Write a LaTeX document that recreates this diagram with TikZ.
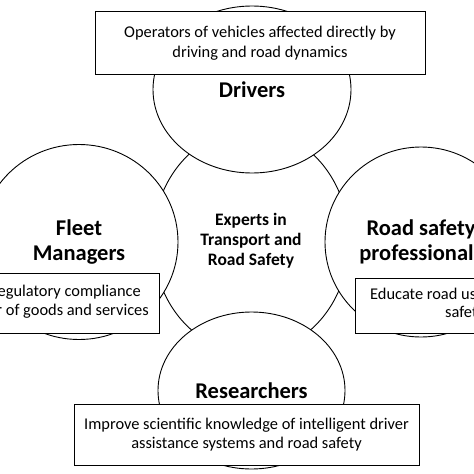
\documentclass[tikz,border=0pt]{standalone}
\usepackage{fontspec}
\setmainfont{Carlito}
\usetikzlibrary{shapes.geometric}
\begin{document}
\begin{tikzpicture}[x=1pt,y=-1pt,
  circ/.style={ellipse,draw,line width=0.9pt,fill=white,inner sep=0pt,align=center,font=\fontsize{22.5}{25}\selectfont\bfseries},
  box/.style={rectangle,draw,line width=0.9pt,fill=white,inner sep=0pt,align=center,font=\fontsize{16.4}{19.5}\selectfont},
  txt/.style={inner sep=0pt,font=\fontsize{16.4}{19.5}\selectfont}]
\useasboundingbox (0,0) rectangle (474,474);
\clip (0,0) rectangle (474,474);
\fill[white] (0,0) rectangle (474,474);
% central ellipse
\node[circ, minimum width=196pt, minimum height=224pt, font=\fontsize{17.5}{20}\selectfont\bfseries] (experts) at (251,241) {Experts in\\Transport and\\Road Safety};
% outer ellipses
\node[circ, minimum width=198pt, minimum height=167pt] (drivers) at (252,89.5) {Drivers};
\node[circ, minimum width=198pt, minimum height=195pt] (fleet) at (79,242) {Fleet\\Managers};
\node[circ, minimum width=192pt, minimum height=190pt] (road) at (421,242) {Road safety\\professionals};
\node[circ, minimum width=187pt, minimum height=157pt] (research) at (251.5,390.5) {Researchers};
% boxes
\node[box, minimum width=330pt, minimum height=63pt] (dbox) at (260,43) {Operators of vehicles affected directly by\\driving and road dynamics};
\node[box, minimum width=220pt, minimum height=60pt] (fbox) at (49,303) {};
\node[txt, anchor=mid east] (f1) at (141,294) {regulatory compliance};
\node[txt, anchor=mid east] (f2) at (149,313) {r of goods and services};
\node[box, minimum width=220pt, minimum height=55pt] (rbox) at (465,305.5) {};
\node[txt, anchor=mid west] (r1) at (370,297) {Educate road users};
\node[txt, anchor=mid west] (r2) at (445,315) {safety};
\node[box, minimum width=345pt, minimum height=61pt] (resbox) at (246.5,434.5) {Improve scientific knowledge of intelligent driver\\assistance systems and road safety};
\end{tikzpicture}
\end{document}
